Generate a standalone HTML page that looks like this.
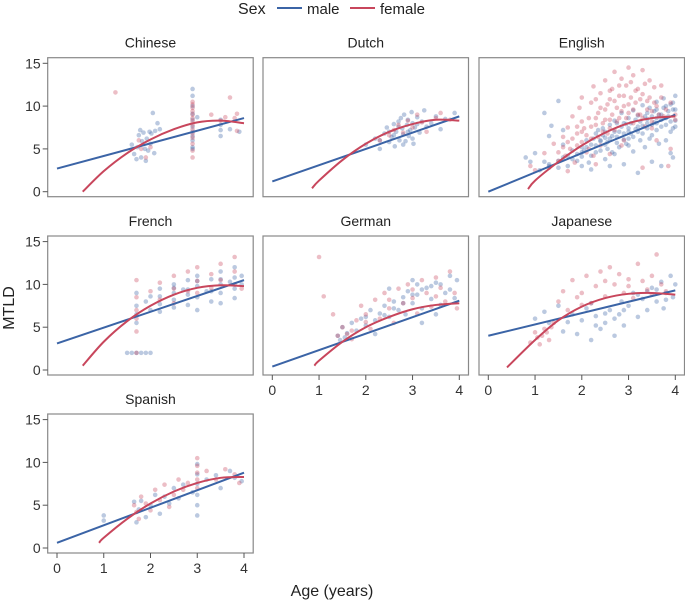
<!DOCTYPE html>
<html><head><meta charset="utf-8">
<style>
html,body{margin:0;padding:0;background:#fff;}
svg{display:block;font-family:"Liberation Sans",sans-serif;}
</style></head>
<body>
<svg id="chart" width="685" height="600" viewBox="0 0 685 600">
  <g>
    <text x="238" y="14" font-size="16" fill="#222">Sex</text>
    <line x1="277" y1="8" x2="302" y2="8" stroke="#3b64a6" stroke-width="2"/>
    <text x="307" y="14" font-size="15" fill="#222">male</text>
    <line x1="350" y1="8" x2="375" y2="8" stroke="#c8465c" stroke-width="2"/>
    <text x="380" y="14" font-size="15" fill="#222">female</text>
  </g>
  <text x="0" y="0" font-size="16" fill="#222" text-anchor="middle" transform="translate(14,308) rotate(-90)">MTLD</text>
  <text x="332" y="596" font-size="16" fill="#222" text-anchor="middle">Age (years)</text>
  <g id="panels"></g>
</svg>
<script>
const languages = ["Chinese","Dutch","English","French","German","Japanese","Spanish"];
const yTicks = [0,5,10,15];
const xTicks = [0,1,2,3,4];
const fitAges = [1,1.5,2,2.5,3,3.5,4];
// male linear fits: [value at age 0, value at age 4]
const maleFit = {Chinese:[2.7,8.6],Dutch:[1.2,8.8],English:[0,9.0],French:[3.1,10.5],German:[0.4,8.1],Japanese:[4.0,9.3],Spanish:[0.6,8.8]};
// female curve start [age,value]
const femaleStart = {Chinese:[0.55,0],Dutch:[0.85,0.4],English:[0.85,0.3],French:[0.55,0.5],German:[0.9,0.5],Japanese:[0.4,0.3],Spanish:[0.9,0.6]};
// female curve values at fitAges
const femaleFit = {
Chinese:[2.4,4.5,6.1,7.3,8.1,8.3,8.0],
Dutch:[1.3,3.7,5.6,7.0,7.9,8.4,8.3],
English:[1.3,3.5,5.4,6.9,8.0,8.6,8.8],
French:[3.3,5.7,7.5,8.8,9.6,9.9,9.8],
German:[1.1,3.3,5.0,6.2,7.1,7.6,7.8],
Japanese:[3.5,5.8,7.4,8.4,8.9,9.0,8.8],
Spanish:[1.2,3.4,5.2,6.6,7.6,8.2,8.3]};
// scatter points: flat [age, mtld, age, mtld, ...]
const malePts = {
Chinese:[1.6,5.5,1.65,4.4,1.7,3.8,1.72,5.2,1.75,6.6,1.78,7.2,1.8,4.0,1.82,5.9,1.85,6.9,1.88,5.0,1.9,3.6,1.92,6.2,1.95,4.8,1.98,7.0,2.0,5.6,2.02,6.8,2.05,9.2,2.08,4.5,2.1,7.1,2.15,8.0,2.2,7.3,2.9,12,2.9,11.2,2.9,10,2.9,9.1,2.9,8.4,2.9,7.6,2.9,7.0,2.9,6.5,2.9,6.0,2.9,5.2,2.9,5.0,3.0,8.7,3.5,7.8,3.5,7.2,3.5,6.5,3.5,8.4,3.7,7.3,3.9,7.0],
Dutch:[2.0,5.5,2.2,6.2,2.3,5.0,2.4,6.8,2.45,7.5,2.5,5.8,2.55,6.4,2.6,7.9,2.62,5.3,2.65,7.0,2.7,8.2,2.72,6.0,2.75,8.6,2.78,7.4,2.8,6.7,2.82,9.0,2.85,5.9,2.88,7.8,2.9,8.4,2.92,6.5,2.95,7.2,2.98,9.3,3.0,8.0,3.02,5.6,3.05,7.5,3.1,8.7,3.15,6.9,3.2,8.2,3.25,9.5,3.3,7.6,3.4,8.0,3.5,8.8,3.6,7.3,3.7,8.5,3.9,9.2,2.6,6.6,2.7,7.6,2.8,5.5,2.9,7.0,3.0,6.2,3.1,7.9,2.5,7.0,2.3,6.0],
English:[0.8,4.0,0.9,3.5,1.0,4.5,1.2,9.2,1.3,6.5,1.35,7.7,1.5,10.6,1.6,7.2,1.6,5.5,1.1,2.5,1.3,3.2,1.5,2.8,1.6,4.0,1.7,3.0,1.8,4.8,1.9,3.6,2.0,5.2,2.0,4.1,2.1,6.0,2.15,3.4,2.2,5.5,2.3,6.8,2.3,4.6,2.4,5.9,2.45,7.4,2.5,3.8,2.5,6.3,2.55,5.0,2.6,7.8,2.65,6.5,2.7,4.4,2.7,8.3,2.75,5.7,2.8,7.0,2.85,9.2,2.9,6.1,2.9,3.2,2.95,7.9,3.0,5.4,3.0,8.6,3.05,6.8,3.1,9.5,3.1,4.7,3.15,7.3,3.2,8.9,3.25,6.0,3.3,10.1,3.3,7.7,3.35,5.2,3.4,8.5,3.45,9.8,3.5,6.6,3.5,3.5,3.55,8.1,3.6,10.5,3.6,7.2,3.65,5.6,3.7,9.0,3.75,10.9,3.8,7.8,3.8,6.0,3.85,8.8,3.9,10.2,3.9,4.5,3.95,7.4,3.95,9.6,4.0,11.2,4.0,8.3,2.2,2.6,2.6,3.0,3.2,2.2,3.7,3.0,3.95,4.0,2.35,7.2,2.75,8.0,3.0,7.4,3.4,8.0,3.6,8.6,3.2,7.6,2.5,5.5,
1.7,4.2,1.8,3.8,1.9,4.4,2.0,3.0,2.05,4.8,2.1,5.2,2.2,4.2,2.25,6.2,2.3,5.4,2.4,4.8,2.45,6.6,2.5,7.0,2.55,5.8,2.6,6.2,2.65,4.6,2.7,7.0,2.75,6.4,2.8,5.2,2.85,7.6,2.9,6.8,2.95,5.6,3.0,7.0,3.0,6.2,3.05,8.0,3.1,6.4,3.15,8.4,3.2,7.0,3.25,8.2,3.3,6.8,3.35,8.8,3.4,7.4,3.45,6.2,3.5,8.8,3.5,7.8,3.55,9.4,3.6,8.0,3.65,9.0,3.7,7.6,3.7,8.4,3.75,9.8,3.8,8.6,3.85,9.4,3.9,8.2,3.9,7.0,3.95,10.4,4.0,9.6,4.0,7.6,3.8,10.0,3.6,9.6,3.4,9.2,2.9,8.0,2.4,6.0,2.0,4.6,1.5,3.6,1.3,3.0,1.2,3.5],
French:[1.7,9.0,1.7,7.5,1.7,6.5,1.7,5.5,1.9,8.0,2.0,7.0,2.0,8.6,2.2,9.5,2.2,7.7,2.2,6.8,2.5,10.0,2.5,9.0,2.5,8.2,2.5,7.3,2.7,9.4,2.8,10.5,2.8,8.8,2.8,7.6,3.0,11.0,3.0,9.8,3.0,8.5,3.0,7.0,3.2,9.2,3.3,10.6,3.3,8.0,3.5,11.5,3.5,10.0,3.5,9.0,3.5,7.8,3.7,10.3,3.8,12.0,3.8,9.5,3.8,8.4,3.95,11.0,3.95,10.0,1.5,2.0,1.6,2.0,1.7,2.0,1.8,2.0,1.9,2.0,2.0,2.0,2.2,8.6,2.5,9.6,2.8,9.4,3.0,10.4,3.3,9.2,3.5,10.6,3.8,10.8],
German:[1.4,4.0,1.45,3.5,1.5,5.0,1.55,3.8,1.6,4.3,1.7,5.5,1.8,4.6,1.9,6.0,2.0,5.2,2.1,7.0,2.2,5.8,2.3,6.6,2.4,7.5,2.5,6.2,2.6,8.0,2.7,7.0,2.8,8.5,2.85,6.5,2.9,9.2,3.0,7.8,3.1,8.8,3.2,7.2,3.3,9.6,3.4,8.3,3.5,10.2,3.6,7.6,3.7,9.0,3.8,11.0,3.9,8.4,3.95,10.5,3.0,10.5,2.5,9.5,3.5,6.5,2.2,4.2,3.2,5.5,2.6,7.2,2.8,7.8,3.0,8.8,3.2,9.4,3.4,9.8,3.6,10.0,3.8,9.4,2.4,6.4,2.0,6.2,3.1,10.0],
Japanese:[1.0,6.0,1.3,5.5,1.5,7.5,1.6,4.5,1.7,5.6,1.8,6.5,1.9,4.2,2.0,5.8,2.1,7.2,2.2,3.5,2.3,6.3,2.4,4.8,2.5,5.5,2.6,7.0,2.7,4.0,2.8,6.5,2.85,8.0,2.9,5.2,3.0,7.5,3.1,9.0,3.2,6.2,3.3,8.3,3.4,7.0,3.5,9.6,3.6,8.0,3.7,10.3,3.75,7.2,3.8,9.0,3.9,11.0,3.95,8.5,4.0,10.0,2.2,7.8,1.2,6.8,2.5,6.6,2.9,7.0,3.2,8.8,3.4,9.2,3.6,9.4,3.8,8.2,2.7,6.0,2.3,5.2],
Spanish:[1.0,3.2,1.0,3.8,1.65,5.4,1.7,3.0,1.75,4.5,1.8,5.5,1.9,3.6,2.0,5.0,2.1,6.2,2.2,4.0,2.3,6.0,2.4,5.2,2.5,7.0,2.6,5.8,2.7,7.4,2.9,6.5,3.0,9.8,3.0,8.6,3.0,7.5,3.0,6.2,3.0,5.0,3.0,3.8,3.2,8.0,3.4,8.5,3.5,7.0,3.7,9.0,3.8,8.2,3.95,7.8]};
const femalePts = {
Chinese:[1.25,11.6,1.75,6.0,1.8,5.0,1.9,4.0,2.0,5.2,2.9,10.5,2.9,10.2,2.9,9.8,2.9,9.4,2.9,9.0,2.9,8.6,2.9,8.2,2.9,7.8,2.9,7.3,2.9,6.8,2.9,6.3,2.9,5.6,2.9,4.8,2.9,4.0,3.3,9.0,3.5,8.3,3.6,8.7,3.7,11.0,3.8,8.6,3.85,9.1,3.85,7.1],
Dutch:[2.3,6.0,2.5,6.6,2.6,7.2,2.7,7.8,2.8,6.9,2.9,8.3,3.0,7.5,3.1,9.0,3.2,8.1,3.3,7.0,3.5,8.6,3.6,9.2,3.8,8.4],
English:[0.9,3.0,1.0,2.5,1.2,4.5,1.3,2.8,1.4,5.6,1.5,3.6,1.6,6.4,1.65,4.2,1.7,7.5,1.75,5.0,1.8,8.8,1.85,3.4,1.9,6.8,1.95,9.8,2.0,5.8,2.0,11.0,2.05,7.4,2.1,4.6,2.15,8.6,2.2,10.4,2.2,6.2,2.25,12.3,2.3,7.8,2.35,9.2,2.4,5.4,2.4,11.5,2.45,8.0,2.5,13.0,2.5,9.6,2.55,6.8,2.6,10.8,2.6,8.4,2.65,12.0,2.7,7.2,2.7,14.0,2.75,9.8,2.8,11.2,2.8,8.6,2.85,13.2,2.9,10.0,2.9,6.0,2.95,12.4,3.0,9.2,3.0,14.5,3.05,11.0,3.1,8.0,3.1,13.6,3.15,10.4,3.2,12.0,3.25,9.0,3.3,14.2,3.3,11.4,3.35,7.6,3.4,10.6,3.45,13.0,3.5,9.4,3.55,12.2,3.6,10.0,3.6,6.0,3.7,11.0,3.75,8.8,3.85,3.0,3.9,5.0,4.0,9.0,2.3,3.2,2.6,4.4,3.3,2.8,1.7,2.4,
1.5,4.6,1.6,5.2,1.7,5.8,1.8,6.2,1.9,5.4,2.0,7.0,2.1,6.6,2.15,5.0,2.2,7.6,2.3,8.6,2.35,6.4,2.4,9.8,2.45,7.0,2.5,8.4,2.55,10.2,2.6,7.4,2.65,9.0,2.7,10.6,2.75,8.2,2.8,12.4,2.85,9.4,2.9,11.2,2.95,8.6,3.0,10.2,3.05,12.8,3.1,9.6,3.15,11.8,3.2,9.0,3.25,10.8,3.3,8.6,3.35,12.6,3.4,9.6,3.45,11.0,3.5,8.2,3.55,10.4,3.65,9.0,3.7,12.4,3.8,9.6,3.9,10.4,4.0,8.4,2.0,8.2,2.3,10.8,2.6,11.8,1.9,7.6,2.25,4.2,2.85,5.4,3.5,7.4],
French:[1.7,10.5,1.7,8.5,1.7,7.0,1.7,6.0,1.7,4.5,1.7,2.0,2.0,9.2,2.2,10.2,2.2,8.2,2.5,11.0,2.5,9.5,2.5,7.8,2.8,11.5,2.8,9.2,3.0,12.0,3.0,10.4,3.0,9.0,3.3,11.2,3.3,9.6,3.5,12.4,3.5,10.5,3.8,13.2,3.8,11.5,3.8,10.0,3.95,9.5],
German:[1.0,13.2,1.1,8.6,1.3,6.5,1.4,4.0,1.5,5.0,1.6,4.2,1.7,3.6,1.8,5.8,1.9,7.5,2.0,6.5,2.1,4.8,2.2,8.2,2.3,6.0,2.4,9.0,2.5,7.2,2.6,5.5,2.7,9.5,2.8,7.8,2.9,10.0,3.0,8.4,3.1,6.6,3.2,10.5,3.3,9.0,3.4,7.4,3.5,10.8,3.6,9.6,3.7,8.0,3.8,11.5,3.9,9.0,3.95,7.2,2.0,5.6,2.5,8.2,3.0,9.4,3.5,8.6,1.7,4.6],
Japanese:[0.9,3.2,1.0,4.4,1.05,3.8,1.1,3.0,1.2,4.8,1.3,3.5,1.4,5.5,1.5,8.0,1.6,9.2,1.7,7.0,1.8,10.5,1.9,8.5,2.0,9.0,2.1,11.0,2.2,7.8,2.3,9.8,2.4,11.5,2.5,8.6,2.6,12.0,2.7,10.0,2.8,11.2,2.9,9.0,3.0,10.6,3.1,8.4,3.2,12.4,3.3,10.4,3.4,9.4,3.5,11.0,3.6,13.5,3.7,10.0,3.8,9.2,1.15,4.0,1.25,4.4,1.35,5.0,2.0,7.6,2.5,10.4,3.0,9.8,3.5,8.8],
Spanish:[1.65,5.0,1.7,4.2,1.75,3.4,1.8,6.0,1.9,5.2,2.0,4.4,2.1,6.8,2.2,5.6,2.3,7.4,2.4,4.8,2.5,6.2,2.6,8.0,2.7,6.8,2.8,7.6,3.0,10.5,3.0,9.6,3.0,8.8,3.0,8.0,3.0,7.0,3.2,9.0,3.4,8.0,3.6,9.2,3.8,8.6,3.9,7.6]};

const BLUE="#3b64a6", RED="#c8465c";
const NS="http://www.w3.org/2000/svg";
const colX=[47.7,263,479], rowY=[57.7,236,414];
const PW=205.5, PH=139;
const root=document.getElementById('panels');
function mk(tag,attrs,parent){const e=document.createElementNS(NS,tag);for(const k in attrs)e.setAttribute(k,attrs[k]);parent.appendChild(e);return e;}
function smoothPath(pts){
  let d='M'+pts[0][0]+','+pts[0][1];
  for(let i=0;i<pts.length-1;i++){
    const p0=pts[Math.max(i-1,0)],p1=pts[i],p2=pts[i+1],p3=pts[Math.min(i+2,pts.length-1)];
    const c1=[p1[0]+(p2[0]-p0[0])/6,p1[1]+(p2[1]-p0[1])/6];
    const c2=[p2[0]-(p3[0]-p1[0])/6,p2[1]-(p3[1]-p1[1])/6];
    d+=' C'+c1[0]+','+c1[1]+' '+c2[0]+','+c2[1]+' '+p2[0]+','+p2[1];
  }
  return d;
}

languages.forEach((lang,i)=>{
  const c=i%3, r=Math.floor(i/3);
  const L=colX[c], T=rowY[r];
  const xs=a=>L+9.3+a*46.75;
  const ys=v=>T+PH-5+ -v*8.56;
  const g=mk('g',{},root);
  
  
  const title=mk('text',{x:L+PW/2,y:T-10,'font-size':14,'text-anchor':'middle',fill:'#222'},g);
  title.textContent=lang;
  
  
  const frame=mk('rect',{x:L,y:T,width:PW,height:PH,fill:'#fff',stroke:'#888','stroke-width':1.2},g);
  
  
  if(c===0){
    yTicks.forEach(t=>{
      const tl=mk('line',{x1:L-5,x2:L,y1:ys(t),y2:ys(t),stroke:'#555'},g);
      
      
      const tx=mk('text',{x:L-7,y:ys(t)+5,'font-size':14,'text-anchor':'end',fill:'#333'},g);
      tx.textContent=t;
      
      
    });
  }
  if(i>=4){
    xTicks.forEach(t=>{
      const tl=mk('line',{x1:xs(t),x2:xs(t),y1:T+PH,y2:T+PH+5,stroke:'#555'},g);
      
      
      const tx=mk('text',{x:xs(t),y:T+PH+20,'font-size':14,'text-anchor':'middle',fill:'#333'},g);
      tx.textContent=t;
      
      
    });
  }
  const drawPts=(arr,col,nm)=>{for(let k=0;k<arr.length;k+=2){
    const p=mk('circle',{cx:xs(arr[k]),cy:ys(arr[k+1]),r:2.3,fill:col,'fill-opacity':0.35},g);
    
    
  }};
  drawPts(malePts[lang],BLUE,'male-point');
  drawPts(femalePts[lang],RED,'female-point');
  const mf=maleFit[lang];
  const ml=mk('line',{x1:xs(0),y1:ys(mf[0]),x2:xs(4),y2:ys(mf[1]),stroke:BLUE,'stroke-width':2},g);
  
  
  const fs=femaleStart[lang];
  const pts=[[xs(fs[0]),ys(fs[1])]];
  fitAges.forEach((a,k)=>{if(a>fs[0]) pts.push([xs(a),ys(femaleFit[lang][k])]);});
  const fl=mk('path',{d:smoothPath(pts),fill:'none',stroke:RED,'stroke-width':2,'stroke-linejoin':'round'},g);
  
  
});
</script>
</body></html>
